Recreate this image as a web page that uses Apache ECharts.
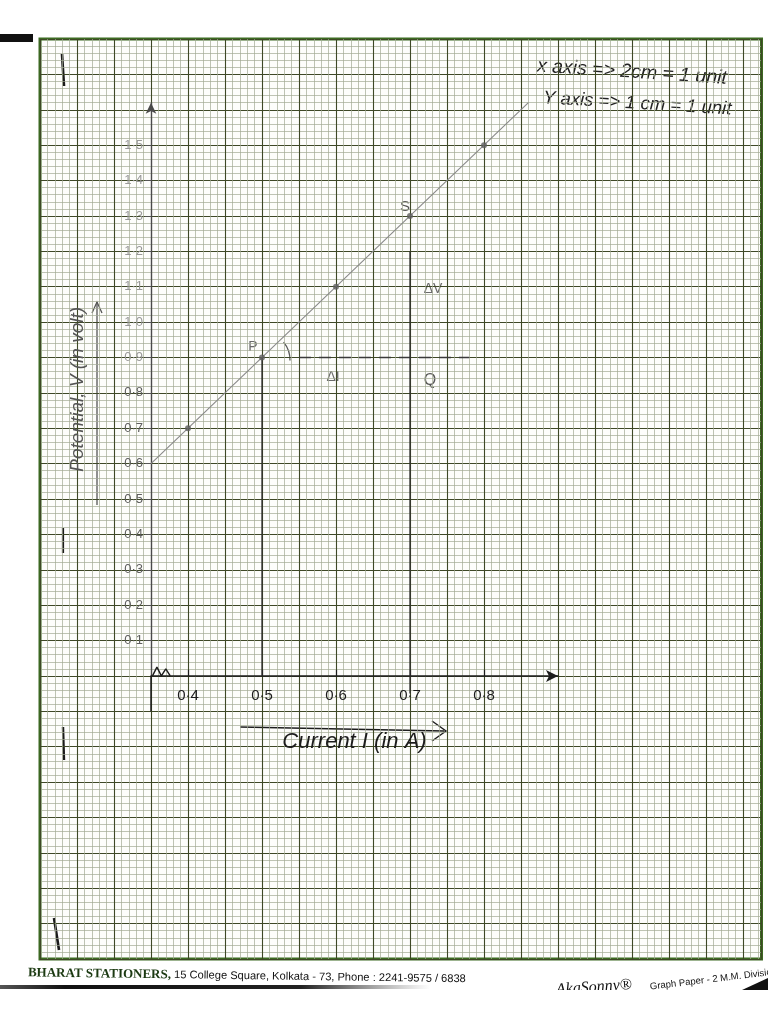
<!DOCTYPE html>
<html><head><meta charset="utf-8">
<script src="https://cdn.jsdelivr.net/npm/echarts@6/dist/echarts.min.js"></script>
<style>html,body{margin:0;padding:0;background:#fff;}#c{width:768px;height:1024px;}</style>
</head><body><div id="c"></div>
<script>
// ---- data ----
const currentA   = [0.4, 0.5, 0.6, 0.7, 0.8];          // I (A)
const potentialV = [0.7, 0.9, 1.1, 1.3, 1.5];          // V (volt)
const fitCurrent   = [0.35, 0.86];                      // best-fit line ends
const fitPotential = [0.6, 1.62];
const xTickValues = [0.4, 0.5, 0.6, 0.7, 0.8];
const yTickValues = [0.1, 0.2, 0.3, 0.4, 0.5, 0.6, 0.7, 0.8, 0.9, 1.0, 1.1, 1.2, 1.3, 1.4, 1.5];
const deltaICurrent = [0.55, 0.78];                     // dashed ΔI line (at V = 0.9)
const deltaIPotential = [0.9, 0.9];
const dropPCurrent = [0.5, 0.5];                        // vertical from P
const dropPPotential = [0.9, 0.0];
const dropSCurrent = [0.7, 0.7];                        // vertical from S through Q
const dropSPotential = [1.2, -0.05];
const axisTailCurrent = [0.35, 0.35];
const axisTailPotential = [0.0, -0.1];
const breakCurrent = [0.352, 0.358, 0.364, 0.370, 0.376];
const breakPotential = [0.0, 0.025, 0.0, 0.02, 0.0];

// ---- layout ----
const pxPerA = 740, pxPerV = 920 / 2.6;
const paperLeft = 40, paperTop = 39;
const paperX = [0.2, 1.175], paperY = [-0.8, 1.8];
const dataX = [0.35, 0.9], dataY = [0, 1.62];

const pairs = (a, b) => a.map((v, i) => [v, b[i]]);
const fmt = v => (Math.round(v * 10) / 10).toFixed(1).replace('.', '·');

const chart = echarts.init(document.getElementById('c'), null, {renderer: 'canvas'});

const pencil = '#6a6a6a';
const ink = '#1c1c1c';

const option = {
  backgroundColor: '#ffffff',
  animation: false,
  grid: [
    { left: paperLeft, top: paperTop,
      width: (paperX[1] - paperX[0]) * pxPerA, height: (paperY[1] - paperY[0]) * pxPerV,
      show: true, backgroundColor: '#fdfdfb', borderColor: '#3d6b22', borderWidth: 3,
      containLabel: false, outerBoundsMode: 'none' },
    { left: paperLeft + (dataX[0] - paperX[0]) * pxPerA,
      top: paperTop + (paperY[1] - dataY[1]) * pxPerV,
      width: (dataX[1] - dataX[0]) * pxPerA, height: (dataY[1] - dataY[0]) * pxPerV,
      containLabel: false, outerBoundsMode: 'none' }
  ],
  xAxis: [
    { type: 'value', gridIndex: 0, min: paperX[0], max: paperX[1], interval: 0.05,
      axisLine: {show: false}, axisTick: {show: false}, axisLabel: {show: false},
      splitLine: {show: true, lineStyle: {color: '#3e4826', width: 1.1}},
      minorTick: {show: false, splitNumber: 5},
      minorSplitLine: {show: true, lineStyle: {color: '#a2a994', width: 0.7}} },
    { type: 'value', gridIndex: 1, min: dataX[0], max: dataX[1],
      name: 'Current I (in A)', nameLocation: 'middle', nameGap: 55,
      nameTextStyle: {fontFamily: 'Liberation Sans', fontSize: 22, color: ink, fontStyle: 'italic'},
      axisLine: {show: true, lineStyle: {color: ink, width: 1.6}, symbol: ['none', 'arrow'], symbolSize: [9, 12]},
      axisTick: {show: true, inside: true, length: 6, customValues: xTickValues, lineStyle: {color: ink, width: 1.2}},
      axisLabel: {show: true, customValues: xTickValues, formatter: fmt, margin: 12,
        fontFamily: 'Liberation Sans', fontSize: 15, color: ink},
      splitLine: {show: false} }
  ],
  yAxis: [
    { type: 'value', gridIndex: 0, min: paperY[0], max: paperY[1], interval: 0.1,
      axisLine: {show: false}, axisTick: {show: false}, axisLabel: {show: false},
      splitLine: {show: true, lineStyle: {color: '#3e4826', width: 1.1}},
      minorTick: {show: false, splitNumber: 5},
      minorSplitLine: {show: true, lineStyle: {color: '#a2a994', width: 0.7}} },
    { type: 'value', gridIndex: 1, min: dataY[0], max: dataY[1],
      name: 'Potential, V (in volt)', nameLocation: 'middle', nameGap: 64,
      nameTextStyle: {fontFamily: 'Liberation Sans', fontSize: 19, color: '#555', fontStyle: 'italic'},
      axisLine: {show: true, lineStyle: {color: '#4a4a4a', width: 1.3}, symbol: ['none', 'arrow'], symbolSize: [8, 11]},
      axisTick: {show: true, inside: false, length: 6, customValues: yTickValues, lineStyle: {color: '#555', width: 1}},
      axisLabel: {show: true, customValues: yTickValues, formatter: fmt, margin: 8,
        fontFamily: 'Liberation Sans', fontSize: 13,
        color: v => (v > 0.85 ? '#999' : '#5e5e5e')},
      splitLine: {show: false} }
  ],
  series: [
    { type: 'line', xAxisIndex: 1, yAxisIndex: 1, clip: false, symbol: 'none', silent: true,
      data: pairs(fitCurrent, fitPotential), lineStyle: {color: '#888', width: 1.1}, z: 5 },
    { type: 'scatter', xAxisIndex: 1, yAxisIndex: 1, clip: false, symbolSize: 6,
      data: pairs(currentA, potentialV), itemStyle: {color: '#5e5e5e'}, z: 6 },
    { type: 'line', xAxisIndex: 1, yAxisIndex: 1, clip: false, symbol: 'none',
      data: pairs(deltaICurrent, deltaIPotential), lineStyle: {color: '#3a3a3a', width: 1.4, type: [12, 8]}, z: 5 },
    { type: 'line', xAxisIndex: 1, yAxisIndex: 1, clip: false, symbol: 'none',
      data: pairs(dropPCurrent, dropPPotential), lineStyle: {color: '#2e2e2e', width: 1.3}, z: 5 },
    { type: 'line', xAxisIndex: 1, yAxisIndex: 1, clip: false, symbol: 'none',
      data: pairs(dropSCurrent, dropSPotential), lineStyle: {color: '#2e2e2e', width: 1.3}, z: 5 },
    { type: 'line', xAxisIndex: 1, yAxisIndex: 1, clip: false, symbol: 'none',
      data: pairs(axisTailCurrent, axisTailPotential), lineStyle: {color: ink, width: 1.5}, z: 5 },
    { type: 'line', xAxisIndex: 1, yAxisIndex: 1, clip: false, symbol: 'none',
      data: pairs(breakCurrent, breakPotential), lineStyle: {color: ink, width: 1.4}, z: 6 }
  ],
  graphic: [
    // point labels
    {type: 'text', x: 253, y: 347, style: {text: 'P', font: '14px "Liberation Sans"', fill: pencil, align: 'center', verticalAlign: 'middle'}},
    {type: 'text', x: 405, y: 207, style: {text: 'S', font: '15px "Liberation Sans"', fill: '#555', align: 'center', verticalAlign: 'middle'}},
    {type: 'text', x: 430, y: 381, style: {text: 'Q', font: '16px "Liberation Sans"', fill: '#555', align: 'center', verticalAlign: 'middle'}},
    {type: 'text', x: 333, y: 377, style: {text: 'ΔI', font: '14px "Liberation Sans"', fill: pencil, align: 'center', verticalAlign: 'middle'}},
    {type: 'text', x: 433, y: 289, style: {text: 'ΔV', font: '14px "Liberation Sans"', fill: pencil, align: 'center', verticalAlign: 'middle'}},
    {type: 'arc', shape: {cx: 262, cy: 360, r: 28, startAngle: -Math.PI * 0.22, endAngle: 0.02}, style: {stroke: '#555', lineWidth: 1.3, fill: null}},
    // scale note
    {type: 'text', x: 537, y: 66, rotation: -0.065, style: {text: 'x axis => 2cm = 1 unit', font: 'italic 19.5px "Liberation Sans"', fill: '#222', verticalAlign: 'middle'}},
    {type: 'text', x: 543, y: 98, rotation: -0.06, style: {text: 'Y axis => 1 cm = 1 unit', font: 'italic 18.5px "Liberation Sans"', fill: '#222', verticalAlign: 'middle'}},
    // title arrows
    {type: 'line', shape: {x1: 240, y1: 727, x2: 444, y2: 731}, style: {stroke: ink, lineWidth: 1.4}},
    {type: 'polyline', shape: {points: [[432, 721], [446, 731], [432, 741]]}, style: {stroke: ink, lineWidth: 1.4, fill: null}},
    {type: 'line', shape: {x1: 97, y1: 505, x2: 97, y2: 302}, style: {stroke: '#555', lineWidth: 1.3}},
    {type: 'polyline', shape: {points: [[92, 313], [97, 302], [102, 313]]}, style: {stroke: '#555', lineWidth: 1.3, fill: null}},
    // margin marks
    {type: 'line', shape: {x1: 62, y1: 54, x2: 64, y2: 86}, style: {stroke: '#1a1a1a', lineWidth: 2.6}},
    {type: 'line', shape: {x1: 63, y1: 528, x2: 63, y2: 553}, style: {stroke: '#1a1a1a', lineWidth: 2.2}},
    {type: 'line', shape: {x1: 63, y1: 727, x2: 64, y2: 760}, style: {stroke: '#1a1a1a', lineWidth: 2.4}},
    {type: 'line', shape: {x1: 54, y1: 918, x2: 59, y2: 950}, style: {stroke: '#1a1a1a', lineWidth: 2.6}},
    // photo edges
    {type: 'rect', shape: {x: 0, y: 34, width: 33, height: 8}, style: {fill: '#111'}},
    {type: 'rect', shape: {x: 0, y: 985, width: 430, height: 4},
      style: {fill: new echarts.graphic.LinearGradient(0, 0, 1, 0, [{offset: 0, color: '#555'}, {offset: 0.15, color: '#111'}, {offset: 0.7, color: '#222'}, {offset: 1, color: 'rgba(60,60,60,0)'}])}},
    {type: 'polygon', shape: {points: [[742, 990], [768, 978], [768, 990]]}, style: {fill: '#111'}},
    // footer
    {type: 'text', x: 28, y: 973, rotation: -0.014, style: {
      text: '{b|BHARAT STATIONERS,} 15 College Square, Kolkata - 73, Phone : 2241-9575 / 6838',
      font: '11.1px "Liberation Sans"', fill: '#111', verticalAlign: 'middle',
      rich: {b: {font: 'bold 13px "Liberation Serif"', fill: '#1c3a12'}}}},
    {type: 'text', x: 556, y: 990, rotation: 0.07, style: {text: 'AkaSonny®', font: 'italic 16px "Liberation Serif"', fill: '#111', verticalAlign: 'middle'}},
    {type: 'text', x: 650, y: 987, rotation: 0.12, style: {text: 'Graph Paper - 2 M.M. Division', font: '9.5px "Liberation Sans"', fill: '#111', verticalAlign: 'middle'}},
    {type: 'rect', z: 100, shape: {x: 0, y: 990, width: 768, height: 40}, style: {fill: '#fff'}}
  ]
};
chart.setOption(option);
</script>
</body></html>
